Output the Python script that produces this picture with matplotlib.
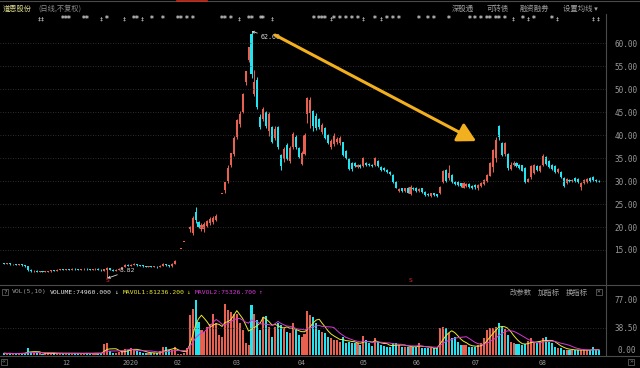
import numpy as np
import pandas as pd
import matplotlib
matplotlib.use("Agg")
import matplotlib.pyplot as plt
from matplotlib.lines import Line2D
from matplotlib.transforms import blended_transform_factory

CJK = ["Noto Sans CJK SC", "DejaVu Sans"]
MONO = "DejaVu Sans Mono"

RED = "#e8604f"
CYAN = "#22e3f0"
GRID = "#3c3c3c"
LINE = "#4a4a4a"
GRAY = "#9a9a9a"

# daily candles 2019-11 .. 2020-08, one entry per trading day
opens = [
    12.1, 12.0, 12.1, 11.9, 11.9, 11.8, 11.9, 11.7, 11.5, 10.6, 10.4, 10.5, 10.3, 10.4, 10.2, 10.3, 10.4, 10.6, 10.5, 10.7, 10.8,  # Nov
    10.7, 10.8, 10.7, 10.9, 10.8, 10.7, 10.8, 10.9, 10.8, 10.7, 10.8, 10.9, 10.7, 10.5, 10.6, 11.0, 10.7, 10.5, 10.7, 10.9, 11.3, 11.8,  # Dec
    11.6, 11.8, 11.9, 11.7, 11.6, 11.5, 11.4, 11.4, 11.3, 11.4, 11.2, 11.6, 11.9, 11.7, 11.5, 12.0,  # Jan
    13.86, 15.25, 16.77, 18.45, 19.5, 18.6, 23.2, 21.1, 19.6, 19.5, 20.2, 20.8, 21.0, 21.6, 24.75, 27.2, 28.0, 30.0, 33.5, 36.0,  # Feb
    39.6, 42.5, 45.0, 51.6, 56.4, 62.0, 49.0, 52.0, 44.0, 43.5, 45.0, 40.8, 41.8, 39.4, 41.8, 35.7, 34.7, 37.8, 34.4, 37.4, 39.5, 37.2,  # Mar
    33.8, 36.0, 44.5, 44.8, 45.2, 44.2, 43.6, 40.6, 41.6, 40.0, 37.4, 38.0, 38.4, 38.2, 38.5, 36.6, 34.8, 34.0, 34.0, 33.0, 33.6,  # Apr
    33.2, 34.0, 33.8, 33.6, 33.4, 34.3, 33.0, 32.8, 32.4, 32.0, 31.4, 29.8, 27.9, 28.4, 27.9, 28.5, 27.2, 28.6,  # May
    28.6, 27.8, 28.5, 27.7, 27.2, 26.7, 27.3, 27.1, 27.4, 29.8, 32.4, 30.6, 31.3, 29.9, 29.8, 29.5, 28.6, 28.9, 29.4, 28.9,  # Jun
    29.2, 28.4, 29.0, 29.3, 30.0, 31.2, 33.0, 35.0, 42.0, 38.3, 35.8, 36.0, 32.6, 33.4, 34.0, 33.6, 33.4, 32.8, 29.9, 30.8, 31.8, 33.2, 32.2,  # Jul
    33.5, 35.3, 34.3, 33.6, 33.2, 32.0, 32.0, 30.6, 29.6, 30.2, 30.0, 30.6, 30.4, 28.8, 29.6, 29.8, 30.6, 30.8, 30.3, 30.1,  # Aug
]
closes = [
    12.0, 12.1, 11.9, 11.9, 11.8, 11.9, 11.7, 11.5, 10.6, 10.4, 10.5, 10.3, 10.4, 10.2, 10.3, 10.4, 10.6, 10.5, 10.7, 10.8, 10.7,
    10.8, 10.7, 10.9, 10.8, 10.7, 10.8, 10.9, 10.8, 10.7, 10.8, 10.9, 10.7, 10.6, 10.8, 11.0, 10.7, 10.5, 10.7, 10.9, 11.3, 11.8, 11.6,
    11.8, 11.9, 11.7, 11.6, 11.5, 11.4, 11.4, 11.3, 11.4, 11.2, 11.6, 11.9, 11.7, 11.5, 12.0, 12.6,
    13.86, 15.25, 16.77, 18.45, 19.9, 21.9, 21.5, 20.1, 20.4, 20.6, 21.2, 21.8, 22.0, 22.5, 24.75, 27.2, 29.9, 32.9, 36.2, 39.3,
    43.4, 44.7, 49.0, 53.9, 59.2, 53.3, 51.6, 46.2, 41.8, 45.6, 42.0, 44.5, 38.6, 41.4, 37.4, 33.2, 37.0, 34.8, 37.2, 40.3, 37.5, 35.2,
    36.2, 40.0, 48.0, 47.6, 42.0, 41.6, 41.8, 42.2, 39.4, 38.3, 38.8, 39.8, 39.2, 39.4, 35.7, 35.1, 32.6, 32.6, 33.2, 33.6, 33.1,
    35.0, 33.5, 33.4, 33.3, 35.0, 33.2, 32.5, 32.4, 32.0, 31.5, 29.7, 28.6, 28.3, 27.9, 28.4, 27.5, 28.8, 28.2,
    27.8, 28.3, 27.6, 27.0, 26.9, 27.3, 26.9, 26.8, 28.7, 32.3, 30.0, 31.8, 29.8, 29.4, 29.2, 29.0, 29.5, 29.4, 28.8, 28.6,
    28.7, 29.2, 29.5, 30.3, 31.3, 34.0, 36.8, 38.9, 39.5, 35.7, 38.2, 32.8, 33.5, 34.0, 33.2, 32.8, 32.3, 29.8, 30.4, 33.2, 33.4, 32.4, 33.3,
    35.5, 33.8, 33.1, 32.6, 32.0, 32.6, 30.8, 29.0, 30.4, 30.0, 30.2, 30.0, 29.8, 29.6, 30.3, 30.4, 30.1, 30.3, 30.0, 29.9,
]
highs = [
    12.2, 12.2, 12.2, 12.0, 12.0, 12.0, 12.0, 11.8, 11.6, 10.8, 10.6, 10.6, 10.5, 10.5, 10.4, 10.5, 10.7, 10.7, 10.8, 10.9, 10.9,
    10.9, 10.9, 11.0, 11.0, 10.9, 10.9, 11.0, 11.0, 10.9, 10.9, 11.0, 11.0, 10.8, 10.9, 11.2, 11.1, 10.8, 10.8, 11.0, 11.4, 12.0, 11.9,
    12.0, 12.1, 12.0, 11.8, 11.7, 11.6, 11.5, 11.5, 11.5, 11.5, 11.8, 12.1, 12.0, 11.8, 12.1, 12.8,
    13.86, 15.25, 16.77, 18.45, 20.3, 22.3, 24.4, 21.3, 20.8, 21.0, 21.6, 22.2, 22.4, 22.9, 24.75, 27.2, 29.9, 33.5, 36.2, 39.8,
    43.6, 45.3, 49.2, 54.0, 59.3, 62.6, 54.2, 52.6, 44.5, 46.2, 45.2, 45.0, 42.0, 42.0, 42.0, 36.0, 37.4, 38.2, 37.6, 40.6, 40.0, 37.5,
    36.5, 40.4, 48.3, 48.2, 45.5, 44.8, 43.8, 42.6, 41.8, 40.2, 39.2, 40.4, 39.6, 39.8, 38.6, 36.8, 35.0, 34.2, 34.2, 33.8, 33.8,
    35.3, 34.2, 34.0, 33.8, 35.3, 34.5, 33.2, 33.0, 32.6, 32.2, 31.6, 30.0, 28.6, 28.6, 28.6, 28.7, 29.2, 28.8,
    28.8, 28.6, 28.6, 27.8, 27.4, 27.5, 27.5, 27.2, 28.9, 32.5, 32.6, 33.5, 31.5, 30.1, 30.0, 29.6, 29.7, 29.6, 29.6, 29.1,
    29.4, 29.4, 29.7, 30.5, 31.6, 34.2, 37.0, 39.5, 42.3, 38.5, 38.4, 36.2, 34.2, 34.4, 34.2, 33.8, 33.6, 33.0, 30.7, 33.6, 33.8, 33.4, 33.6,
    35.9, 35.5, 34.5, 33.8, 33.4, 32.8, 32.2, 30.8, 30.6, 30.4, 30.4, 30.8, 30.6, 29.8, 30.5, 30.6, 30.8, 31.0, 30.4, 30.2,
]
lows = [
    11.9, 11.9, 11.8, 11.8, 11.7, 11.7, 11.6, 11.4, 10.5, 10.3, 10.3, 10.2, 10.2, 10.1, 10.1, 10.2, 10.3, 10.4, 10.4, 10.6, 10.6,
    10.6, 10.6, 10.6, 10.7, 10.6, 10.6, 10.7, 10.7, 10.6, 10.6, 10.7, 10.6, 10.5, 10.4, 8.82, 10.6, 10.4, 10.4, 10.6, 10.8, 11.2, 11.5,
    11.5, 11.7, 11.6, 11.5, 11.4, 11.3, 11.3, 11.2, 11.2, 11.1, 11.2, 11.5, 11.6, 11.4, 11.4, 11.9,
    13.86, 15.25, 16.77, 18.45, 19.0, 18.3, 20.8, 19.8, 19.2, 19.0, 19.9, 20.4, 20.6, 21.2, 24.75, 27.2, 27.5, 29.6, 33.0, 35.5,
    39.2, 41.8, 44.8, 51.0, 56.0, 52.5, 48.5, 45.8, 41.3, 43.0, 41.5, 39.8, 38.2, 38.9, 37.0, 32.4, 34.2, 34.5, 34.0, 37.0, 37.0, 35.0,
    33.4, 35.6, 42.6, 41.5, 41.0, 41.2, 41.4, 40.2, 39.2, 38.0, 37.0, 37.6, 38.0, 37.8, 35.4, 34.9, 32.4, 32.2, 33.0, 32.8, 32.9,
    33.0, 33.3, 33.2, 33.1, 33.2, 33.0, 32.3, 32.2, 31.8, 31.3, 29.5, 28.4, 27.7, 27.7, 27.7, 27.3, 27.0, 28.0,
    27.6, 27.6, 27.4, 26.8, 26.7, 26.5, 26.7, 26.6, 27.2, 29.6, 29.8, 30.3, 29.6, 29.2, 29.0, 28.8, 28.4, 28.7, 28.6, 28.3,
    28.3, 28.1, 28.8, 29.2, 29.8, 31.0, 32.0, 34.2, 39.0, 35.5, 35.5, 32.5, 32.4, 33.2, 33.0, 32.6, 32.1, 29.6, 29.7, 30.5, 31.5, 32.2, 32.0,
    33.3, 33.6, 32.9, 32.4, 31.8, 31.8, 30.6, 28.8, 29.4, 29.8, 29.9, 29.8, 29.6, 28.1, 29.4, 29.6, 29.9, 30.1, 29.8, 29.8,
]
# volume, 10k lots
volumes = [
    3, 2.5, 3, 2, 3, 2.5, 3, 4, 10, 5, 4, 3, 3, 2.5, 3, 3, 2.5, 3, 3.5, 3, 3,
    3, 3, 2.5, 3, 3, 2.5, 3, 3, 2.5, 3, 3.5, 3, 3, 16, 17, 6, 4, 3, 5, 6, 9, 8,
    10, 9, 6, 5, 4, 3.5, 3, 3, 3.5, 3, 6, 12, 11, 7, 8, 12,
    2, 2.5, 3, 10, 56, 65, 77, 46, 35, 33, 40, 44, 58, 45, 28, 26, 72, 63, 60, 58,
    58, 45, 35, 17, 14, 70, 58, 49, 35, 54, 55, 40, 26, 40, 45, 42, 38, 33, 31, 45, 35, 28,
    26, 30, 61, 56, 54, 45, 35, 33, 31, 26, 24, 21, 21, 19, 25, 17, 19, 17, 17, 17, 14,
    27, 21, 17, 13, 24, 19, 14, 13, 12, 12, 17, 17, 14, 12, 12, 12, 12, 12,
    12, 17, 10, 10, 10, 10, 10, 10, 38, 40, 38, 31, 24, 26, 19, 15, 14, 14, 12, 12,
    12, 14, 17, 24, 35, 38, 38, 40, 45, 40, 36, 28, 18, 17, 16, 16, 14, 16, 20, 24, 17, 17, 20,
    24, 25, 18, 17, 12, 10, 10, 8, 8, 7.5, 7.5, 7, 7.5, 7.5, 7, 7, 7.5, 11, 7, 7.5,
]

month_pos = [21, 43, 59, 79, 101, 122, 140, 160, 183]
month_labels = ["12", "2020", "02", "03", "04", "05", "06", "07", "08"]
price_ticks = [15, 20, 25, 30, 35, 40, 45, 50, 55, 60]
vol_ticks = [38.5, 77]

# info-mine marks along the top
dagger_days = [12, 13, 33, 41, 47, 80, 91, 111, 122, 128, 173, 178, 188, 200, 202]
star_days = [20, 21, 22, 27, 28, 35, 44, 45, 50, 54, 59, 60, 62, 64, 74, 75, 77, 83, 84, 87, 88,
             105, 107, 108, 109, 112, 114, 116, 118, 120, 126, 130, 132, 134, 141, 144, 146, 151,
             158, 160, 162, 164, 165, 167, 168, 170, 176, 180, 186]
signal_days = [35, 138]

arrow_from = (92, 61.8)
arrow_to = (160.3, 38.7)

o = np.array(opens)
c = np.array(closes)
h = np.array(highs)
l = np.array(lows)
v = np.array(volumes, dtype=float)
x = np.arange(len(c))
colors = np.where(c >= o, RED, CYAN)


def fx(px):
    return px / 640


def fy(py):
    return 1 - py / 368


fig = plt.figure(figsize=(6.4, 3.68), dpi=100, facecolor="black")
ax = fig.add_axes([0, fy(284), fx(606), 260 / 368], facecolor="black")
axv = fig.add_axes([0, fy(355.4), fx(606), 59.4 / 368], facecolor="black")

# candles
ax.vlines(x, l, h, colors=colors, lw=0.7)
ax.bar(x, np.maximum(np.abs(c - o), 0.12), bottom=np.minimum(o, c), width=0.7,
       color=colors, linewidth=0)
ax.set_xlim(-1.43, 204.4)
ax.set_ylim(7.59, 64.2)
ax.set_yticks(price_ticks)
ax.set_yticklabels([f"{t:.2f}" for t in price_ticks], family=MONO)
ax.yaxis.tick_right()
ax.tick_params(axis="y", length=0, pad=6, labelsize=5.5, labelcolor=GRAY)
ax.set_xticks([])
ax.grid(axis="y", color=GRID, linestyle=(0, (1, 2)), lw=0.6)
for s in ["top", "left", "bottom", "right"]:
    ax.spines[s].set_visible(False)

peak = int(np.argmax(h))
low = int(np.argmin(l))
ax.annotate(f"{h[peak]:.2f}", xy=(peak, h[peak]), xytext=(6.2, -4), textcoords="offset points",
            ha="left", va="center", fontsize=4.8, family=MONO, color="#d8d8d8",
            arrowprops=dict(arrowstyle="->", color="#d8d8d8", lw=0.6, mutation_scale=4,
                            shrinkA=0, shrinkB=0))
ax.annotate(f"{l[low]:.2f}", xy=(low, l[low]), xytext=(9.2, 5.3), textcoords="offset points",
            ha="left", va="center", fontsize=4.6, family=MONO, color="#d8d8d8",
            arrowprops=dict(arrowstyle="->", color="#d8d8d8", lw=0.6, mutation_scale=4,
                            shrinkA=0, shrinkB=0))
ax.annotate("", xy=arrow_to, xytext=arrow_from,
            arrowprops=dict(arrowstyle="-|>,head_length=0.55,head_width=0.3", color="#f2b01e",
                            lw=2.2, mutation_scale=20, shrinkA=0, shrinkB=0))

tr = blended_transform_factory(ax.transData, ax.transAxes)
for d in dagger_days:
    ax.text(d, 1.019, "‡", transform=tr, ha="center", va="center", fontsize=4.5,
            color="#d0d0d0", clip_on=False)
for d in star_days:
    ax.text(d, 1.019, "*", transform=tr, ha="center", va="center", fontsize=5.5,
            color="#d0d0d0", fontweight="bold", clip_on=False)
for d in signal_days:
    ax.text(d, 8.25, "S", ha="center", va="center", fontsize=4.2, color="#e03030")

# volume panel
axv.bar(x, v, width=0.7, color=colors, linewidth=0)
ma5 = pd.Series(v).rolling(5, min_periods=1).mean()
ma10 = pd.Series(v).rolling(10, min_periods=1).mean()
axv.plot(x, ma5, color="#e8e830", lw=0.7)
axv.plot(x, ma10, color="#d838d8", lw=0.7)
axv.axhline(38.5, color=GRID, linestyle=(0, (1, 2)), lw=0.6)
axv.set_xlim(-1.43, 204.4)
axv.set_ylim(0, 82.5)
axv.set_yticks(vol_ticks)
axv.set_yticklabels([f"{t:.2f}" for t in vol_ticks], family=MONO)
axv.yaxis.tick_right()
axv.tick_params(axis="y", length=0, pad=6, labelsize=5.5, labelcolor=GRAY)
axv.text(636 / 606, 6.8, "0.00", transform=blended_transform_factory(axv.transAxes, axv.transData),
         ha="right", va="center", fontsize=5.5, family=MONO, color=GRAY)
axv.set_xticks(month_pos)
axv.set_xticklabels(month_labels, family=MONO)
axv.tick_params(axis="x", length=0, pad=3, labelsize=4.8, labelcolor=GRAY)
for s in ["top", "left", "bottom", "right"]:
    axv.spines[s].set_visible(False)

# frame lines
for (x0, y0, x1, y1) in [(0, 285, 640, 285), (0, 356, 640, 356), (606, 14, 606, 356),
                         (0, 1, 640, 1)]:
    fig.add_artist(Line2D([fx(x0), fx(x1)], [fy(y0), fy(y1)], color=LINE, lw=0.8))
fig.add_artist(Line2D([fx(177), fx(207)], [fy(1), fy(1)], color="#c83020", lw=1.2))

# header
fig.text(fx(3), fy(9), "道恩股份", family=CJK, fontsize=5.2, color="#e0dc90", va="center")
fig.text(fx(38), fy(9), "(日线,不复权)", family=CJK, fontsize=5.2, color="#8c8c8c", va="center")
for px_, s in [(452, "深股通"), (487, "可转债"), (520, "融资融券"), (563, "设置均线 ▾")]:
    fig.text(fx(px_), fy(9), s, family=CJK, fontsize=5.3, color="#a0a0a0", va="center")

# volume header
fig.text(fx(3), fy(292), "?", family=MONO, fontsize=4.4, color=GRAY, va="center",
         bbox=dict(fc="none", ec="#707070", lw=0.5, pad=0.6))
items = [(12, "VOL(5,10)", GRAY), (50, "VOLUME:74960.000", "#e6e6e6"), (114, "↓", "#e6e6e6"),
         (123, "MAVOL1:81236.200", "#e8e830"), (186, "↓", "#e8e830"),
         (195, "MAVOL2:75326.700", "#d838d8"), (258, "↑", "#d838d8")]
for px_, s, col in items:
    fig.text(fx(px_), fy(292), s, family=MONO, fontsize=4.6, color=col, va="center")
for px_, s in [(510, "改参数"), (538, "加指标"), (566, "换指标")]:
    fig.text(fx(px_), fy(293), s, family=CJK, fontsize=5.3, color="#a0a0a0", va="center")
fig.text(fx(597), fy(292), "×", family=MONO, fontsize=4.6, color=GRAY, va="center",
         bbox=dict(fc="none", ec="#707070", lw=0.5, pad=0.5))
fig.text(fx(2), fy(362), "«", family=MONO, fontsize=4.6, color=GRAY, va="center",
         bbox=dict(fc="none", ec="#707070", lw=0.5, pad=0.5))
fig.text(fx(629), fy(362), "»", family=MONO, fontsize=4.6, color=GRAY, va="center",
         bbox=dict(fc="none", ec="#707070", lw=0.5, pad=0.5))

fig.savefig("out.png", dpi=100, facecolor="black")
